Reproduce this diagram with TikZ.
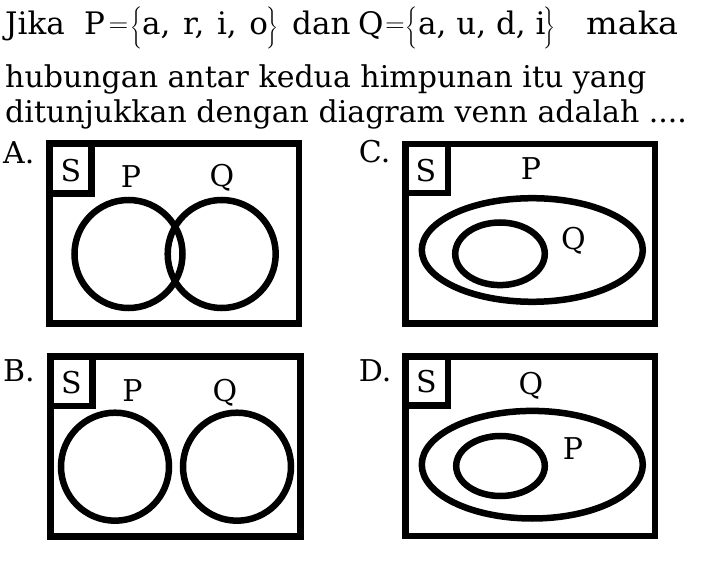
\documentclass[tikz,border=0pt]{standalone}
\usepackage{fontspec}
\usepackage{graphicx}
\setmainfont{DejaVu Serif}
\usetikzlibrary{shapes.geometric}
\begin{document}
\begin{tikzpicture}[x=1pt,y=-1pt,
  frame/.style={line width=6.5pt, line join=miter},
  txt/.style={anchor=base west, inner sep=0pt, font=\fontsize{30}{36}\selectfont},
  tone/.style={anchor=base west, inner sep=0pt, font=\fontsize{31}{36}\selectfont},
  lbl/.style={anchor=base, inner sep=0pt, font=\fontsize{30}{36}\selectfont},
  mth/.style={anchor=center, inner sep=0pt},
  ring/.style={draw, line width=6.5pt, circle, inner sep=0pt},
  oval/.style={draw, line width=6.5pt, ellipse, inner sep=0pt}]
\useasboundingbox (0,0) rectangle (705,567);

% question text, line 1
\node[tone] (jika) at (5,35) {Jika};
\node[tone] (p1) at (84,35) {P};
\node[mth] (eq1) at (118.5,27) {\resizebox*{19.8pt}{8.5pt}{$=$}};
\node[mth] (lb1) at (136,27.5) {\resizebox*{12pt}{42pt}{$\Bigg\{$}};
\node[tone] (setp) at (142,35) {a,\hspace{12.6pt}r,\hspace{12.6pt}i,\hspace{12.6pt}o};
\node[mth] (rb1) at (272.5,27.5) {\resizebox*{12pt}{42pt}{$\Bigg\}$}};
\node[tone] (dan) at (292,35) {dan};
\node[tone] (q1) at (358,35) {Q};
\node[mth] (eq2) at (395,27) {\resizebox*{19.8pt}{8.5pt}{$=$}};
\node[mth] (lb2) at (411,27.5) {\resizebox*{12pt}{42pt}{$\Bigg\{$}};
\node[tone] (setq) at (418,35) {a, u, d, i};
\node[mth] (rb2) at (549,27.5) {\resizebox*{12pt}{42pt}{$\Bigg\}$}};
\node[tone, xscale=1.08] (maka) at (586,35) {maka};
% lines 2 and 3
\node[txt] (line2) at (5,88) {hubungan antar kedua himpunan itu yang};
\node[txt] (line3) at (5,123) {ditunjukkan dengan diagram venn adalah ....};

% option letters
\node[txt] (optA) at (3,164) {A.};
\node[txt] (optB) at (3,381.7) {B.};
\node[txt] (optC) at (358.7,163) {C.};
\node[txt] (optD) at (358.7,381.7) {D.};

% A
\draw[frame] (49.5,143.5) rectangle (299,323.5);
\draw[frame] (49.5,143.5) rectangle (91.5,193.5);
\node[lbl] (sA) at (71,182) {S};
\node[ring, minimum size=108pt] (cPA) at (128.5,254) {};
\node[ring, minimum size=108pt] (cQA) at (221.7,254) {};
\node[lbl] (pA) at (131,188) {P};
\node[lbl] (qA) at (222,187) {Q};

% B
\draw[frame] (50.5,356.5) rectangle (300.5,536.5);
\draw[frame] (50.5,356.5) rectangle (92.5,406);
\node[lbl] (sB) at (71.5,393.3) {S};
\node[ring, minimum size=108pt] (cPB) at (115,466.7) {};
\node[ring, minimum size=108pt] (cQB) at (237,466.7) {};
\node[lbl] (pB) at (132.5,401.5) {P};
\node[lbl] (qB) at (225,401.5) {Q};

% C
\draw[frame] (405.7,143.8) rectangle (655,323.7);
\draw[frame] (405.7,143.8) rectangle (447.8,193);
\node[lbl] (sC) at (426,181.7) {S};
\node[oval, minimum width=221pt, minimum height=103.6pt] (eBC) at (532.3,250) {};
\node[oval, minimum width=89.6pt, minimum height=62.6pt] (eSC) at (500,253.8) {};
\node[lbl] (pC) at (531,180) {P};
\node[lbl] (qC) at (573.5,250) {Q};

% D
\draw[frame] (405.7,356.3) rectangle (655,535.8);
\draw[frame] (405.7,356.3) rectangle (447.8,405.3);
\node[lbl] (sD) at (426.5,392.7) {S};
\node[oval, minimum width=221pt, minimum height=107.6pt] (eBD) at (532.3,464.7) {};
\node[oval, minimum width=88.6pt, minimum height=60pt] (eSD) at (500.5,466) {};
\node[lbl] (qD) at (531,394) {Q};
\node[lbl] (pD) at (573,459) {P};
\end{tikzpicture}
\end{document}
